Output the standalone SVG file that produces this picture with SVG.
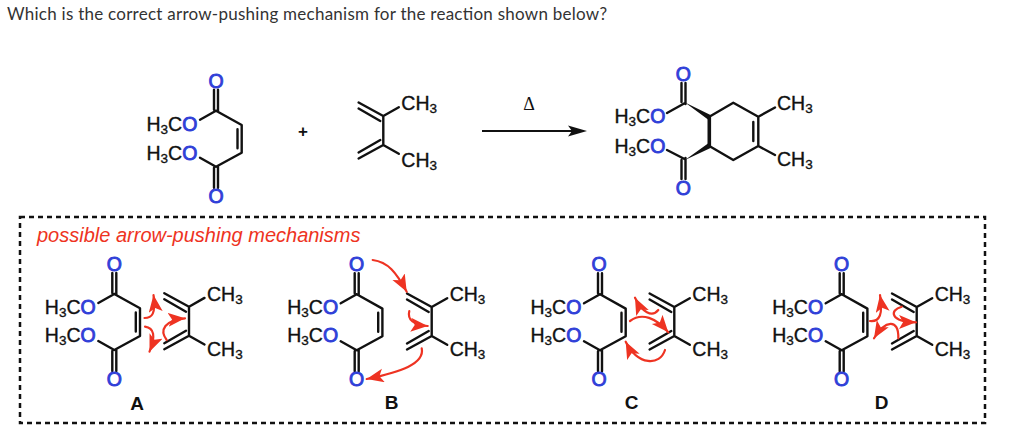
<svg xmlns="http://www.w3.org/2000/svg" width="1024" height="448" viewBox="0 0 1024 448">
<style>
.b{fill:none;stroke:#111;stroke-width:2.4;stroke-linecap:round;stroke-linejoin:round}
.t{font-family:"Liberation Sans",Arial,sans-serif;font-size:19.500px;fill:#111;stroke:#111;stroke-width:.35}
.s{font-size:13.500px}
.o{fill:#3040d8;stroke:#3040d8;stroke-width:.9}
.l{font-family:"Liberation Sans",Arial,sans-serif;font-size:19px;font-weight:bold;fill:#111;text-anchor:middle}
.r{fill:none;stroke:#ee3322;stroke-width:2.200;stroke-linecap:round;marker-end:url(#rh)}
</style>
<defs>
<marker id="rh" markerUnits="userSpaceOnUse" markerWidth="20" markerHeight="15" refX="17" refY="7" orient="auto"><path d="M0,0L17,7L0,14L4,7Z" fill="#ee3322"/></marker>
<path id="ester" class="b" d="M-2,-21V-1M2,-21V1M0,0L25.700,14.300V42L0,56M21.500,18.500V37.500M-2,77V57M2,77V55M0,0L-16,9M0,56L-16,47"/>
<path id="diene" class="b" d="M0,0V29M0,0L-24.700,-13.500M-3,5L-24.700,-7.500M0,29L-24.700,42.500M-3,24L-24.700,36.500M0,0L15.500,-8.800M0,29L15.500,37.800"/>
</defs>
<text x="7" y="20" font-family="Lato,'Open Sans',sans-serif" font-size="17" fill="#333" textLength="600">Which is the correct arrow-pushing mechanism for the reaction shown below?</text>

<g id="reactant-ester" transform="translate(216,110.700)"><use href="#ester"/>
<text class="t o" x="0" y="-23" text-anchor="middle">O</text><text class="t o" x="0" y="92" text-anchor="middle">O</text>
<text class="t" x="-69.500" y="20">H<tspan class="s" dy="3">3</tspan><tspan dy="-3">C</tspan><tspan class="o">O</tspan></text>
<text class="t" x="-69.500" y="49.500">H<tspan class="s" dy="3">3</tspan><tspan dy="-3">C</tspan><tspan class="o">O</tspan></text></g>
<g id="plus"><text x="303" y="137" font-family="'Liberation Sans',sans-serif" font-size="17" font-weight="bold" fill="#111" text-anchor="middle">+</text></g>
<g id="reactant-diene" transform="translate(383.300,116)"><use href="#diene"/>
<text class="t" x="18" y="-6">CH<tspan class="s" dy="3">3</tspan></text><text class="t" x="18" y="51">CH<tspan class="s" dy="3">3</tspan></text></g>
<g id="reaction-arrow"><path d="M482,131H572" stroke="#111" stroke-width="2" fill="none"/><path d="M587,131L568,125.500L572,131L568,136.500Z" fill="#111"/>
<text x="529" y="110" font-family="'Liberation Serif',serif" font-size="18" fill="#111" text-anchor="middle">Δ</text></g>
<g id="product">
<path class="b" d="M681.500,83V102M685.500,83V104M685,103L667,113M709.300,116.700L733.300,102.700L758.300,116.700V146L733.300,160L709.300,146M753.300,122V141M758.300,116.700L775,107.500M758.300,146L775,155M685,159.300L667,150M681.500,179V160M685.500,179V158"/>
<path d="M709.300,146V116.700" stroke="#111" stroke-width="3.600" fill="none"/>
<path d="M685,102.500L710.500,115L708,119.500ZM685,160L708,143.500L710.500,148Z" fill="#111"/>
<text class="t o" x="683.300" y="81" text-anchor="middle">O</text><text class="t o" x="683.300" y="195" text-anchor="middle">O</text>
<text class="t" x="614.500" y="123">H<tspan class="s" dy="3">3</tspan><tspan dy="-3">C</tspan><tspan class="o">O</tspan></text>
<text class="t" x="614.500" y="153">H<tspan class="s" dy="3">3</tspan><tspan dy="-3">C</tspan><tspan class="o">O</tspan></text>
<text class="t" x="777" y="110">CH<tspan class="s" dy="3">3</tspan></text><text class="t" x="777" y="166">CH<tspan class="s" dy="3">3</tspan></text></g>

<g id="mechanism-box"><rect x="20" y="217" width="965" height="206" fill="none" stroke="#111" stroke-width="2.500" stroke-dasharray="5 4"/>
<text x="37" y="242" font-family="'Liberation Sans',sans-serif" font-size="20" font-style="italic" fill="#ee3322">possible arrow-pushing mechanisms</text></g>

<g id="option-A"><g transform="translate(114.300,294)"><use href="#ester"/>
<text class="t o" x="0" y="-23" text-anchor="middle">O</text><text class="t o" x="0" y="91.500" text-anchor="middle">O</text>
<text class="t" x="-69.500" y="19.500">H<tspan class="s" dy="3">3</tspan><tspan dy="-3">C</tspan><tspan class="o">O</tspan></text>
<text class="t" x="-69.500" y="48">H<tspan class="s" dy="3">3</tspan><tspan dy="-3">C</tspan><tspan class="o">O</tspan></text></g>
<g transform="translate(189,306.700)"><use href="#diene"/>
<text class="t" x="18" y="-6">CH<tspan class="s" dy="3">3</tspan></text><text class="t" x="18" y="49">CH<tspan class="s" dy="3">3</tspan></text></g>
<text class="l" x="137" y="410">A</text></g>

<g id="option-B"><g transform="translate(356.700,294.300)"><use href="#ester"/>
<text class="t o" x="0" y="-23" text-anchor="middle">O</text><text class="t o" x="0" y="91.500" text-anchor="middle">O</text>
<text class="t" x="-69.500" y="19.500">H<tspan class="s" dy="3">3</tspan><tspan dy="-3">C</tspan><tspan class="o">O</tspan></text>
<text class="t" x="-69.500" y="48">H<tspan class="s" dy="3">3</tspan><tspan dy="-3">C</tspan><tspan class="o">O</tspan></text></g>
<g transform="translate(431.700,307)"><use href="#diene"/>
<text class="t" x="18" y="-6">CH<tspan class="s" dy="3">3</tspan></text><text class="t" x="18" y="49">CH<tspan class="s" dy="3">3</tspan></text></g>
<text class="l" x="391.700" y="409">B</text></g>

<g id="option-C"><g transform="translate(600,294.300)"><use href="#ester"/>
<text class="t o" x="-1" y="-23" text-anchor="middle">O</text><text class="t o" x="-1" y="91.500" text-anchor="middle">O</text>
<text class="t" x="-69.500" y="19.500">H<tspan class="s" dy="3">3</tspan><tspan dy="-3">C</tspan><tspan class="o">O</tspan></text>
<text class="t" x="-69.500" y="48">H<tspan class="s" dy="3">3</tspan><tspan dy="-3">C</tspan><tspan class="o">O</tspan></text></g>
<g transform="translate(674.300,307)"><use href="#diene"/>
<text class="t" x="18" y="-6">CH<tspan class="s" dy="3">3</tspan></text><text class="t" x="18" y="49">CH<tspan class="s" dy="3">3</tspan></text></g>
<text class="l" x="631.700" y="409">C</text></g>

<g id="option-D"><g transform="translate(841.700,294.300)"><use href="#ester"/>
<text class="t o" x="0" y="-23" text-anchor="middle">O</text><text class="t o" x="0" y="91.500" text-anchor="middle">O</text>
<text class="t" x="-69.500" y="19.500">H<tspan class="s" dy="3">3</tspan><tspan dy="-3">C</tspan><tspan class="o">O</tspan></text>
<text class="t" x="-69.500" y="48">H<tspan class="s" dy="3">3</tspan><tspan dy="-3">C</tspan><tspan class="o">O</tspan></text></g>
<g transform="translate(916.700,307)"><use href="#diene"/>
<text class="t" x="18" y="-6">CH<tspan class="s" dy="3">3</tspan></text><text class="t" x="18" y="49">CH<tspan class="s" dy="3">3</tspan></text></g>
<text class="l" x="881.700" y="409">D</text></g>

<g id="connectors">
<path class="r" d="M144.500,318C152,318 156,314 153.500,295"/>
<path class="r" d="M145,326.700C154,328 156,336 149.500,351.700"/>
<path class="r" d="M166.700,340C159,330 165,320 185,318.300"/>
<path class="r" d="M372.700,260C388,262 396,272 406.700,291.700"/>
<path class="r" d="M409.300,311C407,320 414,325 427.700,326"/>
<path class="r" d="M421.700,348.300C425,364 400,372 366.700,379"/>
<path class="r" d="M658.300,310C652,318 642,312 635,297.700"/>
<path class="r" d="M630,321C642,312 656,318 668.300,332.300"/>
<path class="r" d="M665,350C660,366 638,366 625.700,341.700"/>
<path class="r" d="M870,321C880,322 883,314 880,295"/>
<path class="r" d="M901.700,306.700C889,310 890,322 916,322.300"/>
<path class="r" d="M898.300,338.300C899,318 885,320 874,338.300"/>
</g>
</svg>
